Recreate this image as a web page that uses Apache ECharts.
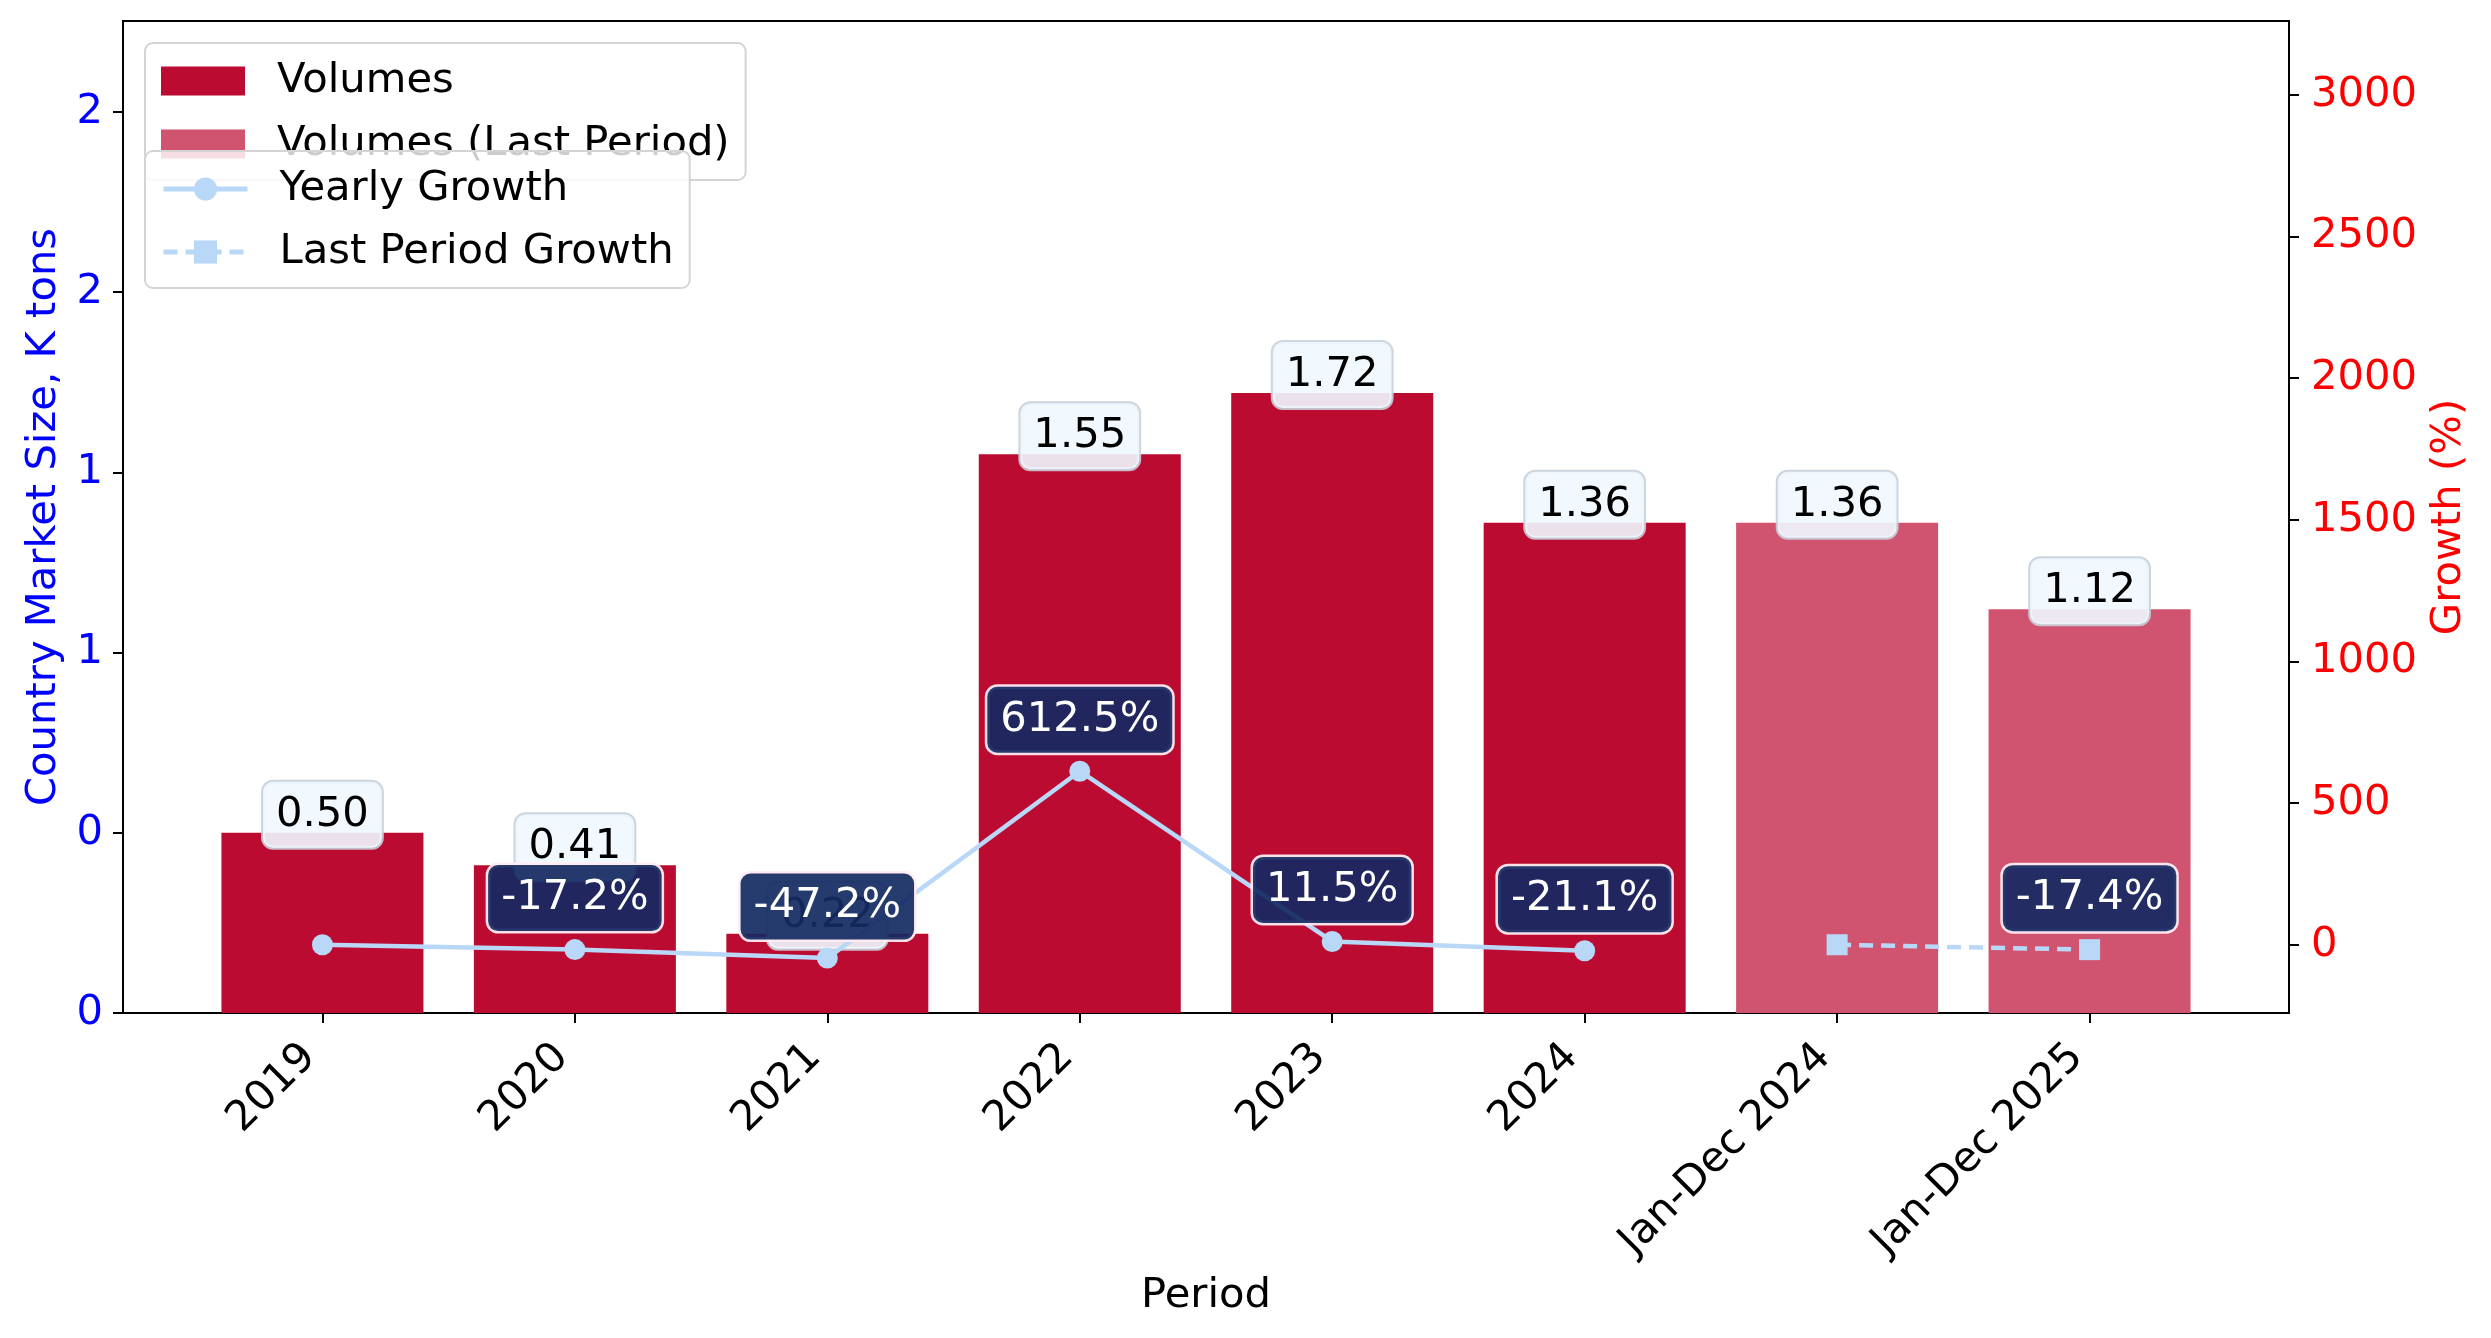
<!DOCTYPE html>
<html>
<head>
<meta charset="utf-8">
<title>Country Market Size</title>
<script src="https://cdn.jsdelivr.net/npm/echarts@6/dist/echarts.min.js"></script>
<style>
  html, body { margin: 0; padding: 0; background: #ffffff; }
  #chart { width: 2491px; height: 1338px; }
</style>
</head>
<body>
<div id="chart"></div>
<script>
const periods = ["2019", "2020", "2021", "2022", "2023", "2024", "Jan-Dec 2024", "Jan-Dec 2025"]
const volumes = [0.50, 0.41, 0.22, 1.55, 1.72, 1.36]
const lastPeriodVolumes = [1.36, 1.12]
const yearlyGrowth = [0, -17.2, -47.2, 612.5, 11.5, -21.1]
const lastPeriodGrowth = [0, -17.4]
const leftTicks = [0, 0.5, 1, 1.5, 2, 2.5]
const leftTickLabels = ["0", "0", "1", "1", "2", "2"]
const rightTicks = [0, 500, 1000, 1500, 2000, 2500, 3000]

const font = "DejaVu Sans"
const fs = 41.7
const barColor = "#bc0b31"
const lastBarColor = "#d0546f"
const lineColor = "#b9d8f7"
const offset = volumes.length
const xTicks = periods.map((p, i) => i)

const barLabel = {
  show: true,
  position: "top",
  distance: -15,
  formatter: (p) => p.value[1].toFixed(2),
  fontFamily: font,
  fontSize: fs,
  lineHeight: 44,
  color: "#000",
  backgroundColor: "rgba(240,248,255,0.9)",
  borderColor: "rgba(200,208,218,0.9)",
  borderWidth: 2,
  borderRadius: 10,
  padding: [11, 13]
}

const growthLabel = {
  show: true,
  position: "top",
  distance: 8,
  formatter: (p) => p.value[1].toFixed(1) + "%",
  fontFamily: font,
  fontSize: fs,
  lineHeight: 44,
  color: "#fff",
  backgroundColor: "rgba(20,42,98,0.92)",
  borderColor: "rgba(255,236,242,0.95)",
  borderWidth: 2.5,
  borderRadius: 10,
  padding: [11, 13]
}

function growthPoints(values, start) {
  return values.map((v, i) => v === 0
    ? { value: [start + i, v], label: { show: false } }
    : { value: [start + i, v] })
}

const legendBase = {
  orient: "vertical",
  left: 145,
  itemWidth: 84,
  itemHeight: 29,
  itemGap: 21,
  padding: [17, 16, 15, 16],
  backgroundColor: "rgba(255,255,255,0.8)",
  borderColor: "#d4d4d4",
  borderWidth: 2,
  borderRadius: 8,
  textStyle: { fontFamily: font, fontSize: fs, color: "#000", padding: [0, 0, 0, 27] }
}

const chart = echarts.init(document.getElementById("chart"))
chart.setOption({
  animation: false,
  backgroundColor: "#fff",
  textStyle: { fontFamily: font },
  grid: {
    left: 123, right: 202, top: 21, bottom: 325,
    show: true, borderColor: "#000", borderWidth: 2, backgroundColor: "transparent"
  },
  legend: [
    Object.assign({}, legendBase, {
      top: 43, z: 4,
      data: [{ name: "Volumes", icon: "rect" }, { name: "Volumes (Last Period)", icon: "rect" }]
    }),
    Object.assign({}, legendBase, {
      top: 151, z: 6,
      lineStyle: { width: 5 },
      data: ["Yearly Growth", "Last Period Growth"]
    })
  ],
  xAxis: {
    type: "value",
    min: -0.79,
    max: 7.79,
    name: "Period",
    nameLocation: "middle",
    nameGap: 262,
    nameTextStyle: { fontFamily: font, fontSize: fs, color: "#000" },
    splitLine: { show: false },
    axisLine: { show: true, onZero: false, lineStyle: { color: "#000", width: 2 } },
    axisTick: { show: true, length: 10, customValues: xTicks, lineStyle: { color: "#000", width: 2 } },
    axisLabel: {
      customValues: xTicks,
      rotate: 45,
      margin: 25,
      padding: [0, 18, 0, 0],
      fontFamily: font,
      fontSize: fs,
      color: "#000",
      formatter: (v) => periods[Math.round(v)]
    }
  },
  yAxis: [
    {
      type: "value",
      min: 0,
      max: 2.752,
      position: "left",
      name: "Country Market Size, K tons",
      nameLocation: "middle",
      nameGap: 58,
      nameTextStyle: { fontFamily: font, fontSize: fs, color: "#0000ff" },
      splitLine: { show: false },
      axisLine: { show: true, onZero: false, lineStyle: { color: "#000", width: 2 } },
      axisTick: { show: true, length: 10, customValues: leftTicks, lineStyle: { color: "#000", width: 2 } },
      axisLabel: {
        customValues: leftTicks,
        margin: 20,
        fontFamily: font,
        fontSize: fs,
        color: "#0000ff",
        formatter: (v) => leftTickLabels[leftTicks.indexOf(v)]
      }
    },
    {
      type: "value",
      min: -241,
      max: 3261,
      position: "right",
      name: "Growth (%)",
      nameLocation: "middle",
      nameGap: 130,
      nameTextStyle: { fontFamily: font, fontSize: fs, color: "#ff0000" },
      splitLine: { show: false },
      axisLine: { show: true, onZero: false, lineStyle: { color: "#000", width: 2 } },
      axisTick: { show: true, length: 10, customValues: rightTicks, lineStyle: { color: "#000", width: 2 } },
      axisLabel: {
        customValues: rightTicks,
        margin: 22,
        fontFamily: font,
        fontSize: fs,
        color: "#ff0000",
        formatter: (v) => String(v)
      }
    }
  ],
  series: [
    {
      name: "Volumes",
      type: "bar",
      barWidth: 202,
      barGap: "-100%",
      itemStyle: { color: barColor },
      label: barLabel,
      z: 2,
      data: volumes.map((v, i) => [i, v])
    },
    {
      name: "Volumes (Last Period)",
      type: "bar",
      barWidth: 202,
      barGap: "-100%",
      itemStyle: { color: lastBarColor },
      label: barLabel,
      z: 2,
      data: lastPeriodVolumes.map((v, i) => [offset + i, v])
    },
    {
      name: "Yearly Growth",
      type: "line",
      yAxisIndex: 1,
      symbol: "circle",
      symbolSize: 21,
      itemStyle: { color: lineColor },
      lineStyle: { color: lineColor, width: 4.5 },
      label: growthLabel,
      z: 5,
      data: growthPoints(yearlyGrowth, 0)
    },
    {
      name: "Last Period Growth",
      type: "line",
      yAxisIndex: 1,
      symbol: "rect",
      symbolSize: 21,
      itemStyle: { color: lineColor },
      lineStyle: { color: lineColor, width: 4.5, type: [14, 8] },
      label: growthLabel,
      z: 5,
      data: growthPoints(lastPeriodGrowth, offset)
    }
  ]
})
</script>
</body>
</html>
